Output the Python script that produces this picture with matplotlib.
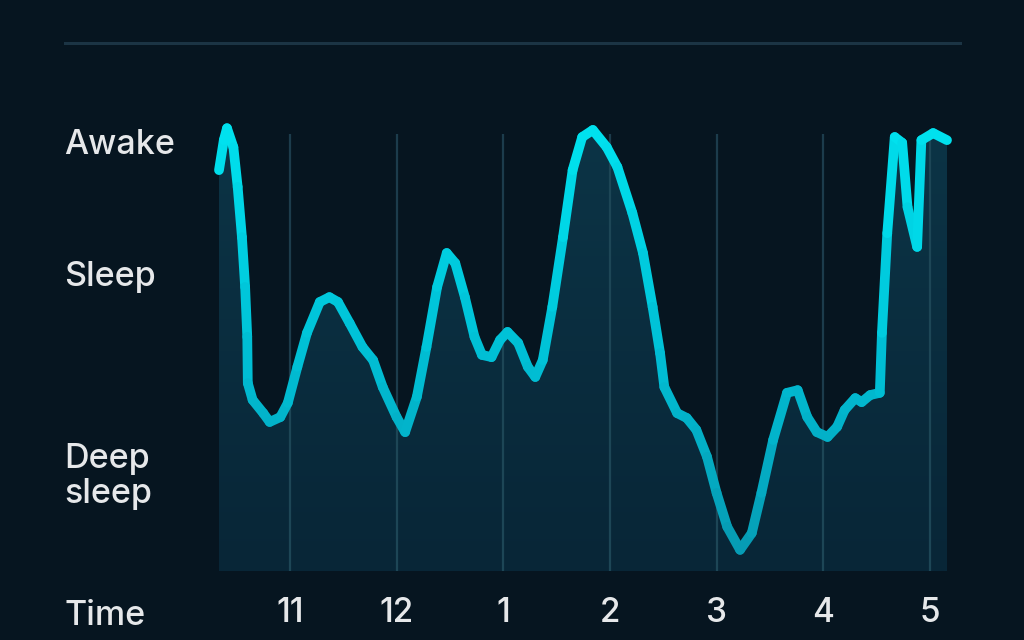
import numpy as np
import matplotlib.pyplot as plt
from matplotlib.collections import LineCollection
from matplotlib.colors import LinearSegmentedColormap
from matplotlib.lines import Line2D
import matplotlib.transforms as mtransforms

# sleep trace: time in hours (13 = 1am ...), level 0 = deepest, 100 = fully awake
hours = [10.335, 10.38, 10.41, 10.47, 10.51, 10.55, 10.58, 10.60, 10.605, 10.65,
         10.75, 10.81, 10.91, 10.98, 11.07, 11.16, 11.28, 11.37, 11.45, 11.56,
         11.68, 11.78, 11.87, 12.00, 12.08, 12.19, 12.28, 12.38, 12.47, 12.55,
         12.64, 12.73, 12.80, 12.89, 12.97, 13.04, 13.14, 13.23, 13.30, 13.37,
         13.46, 13.56, 13.65, 13.74, 13.84, 13.97, 14.07, 14.21, 14.31, 14.40,
         14.47, 14.51, 14.63, 14.72, 14.81, 14.91, 15.00, 15.10, 15.22, 15.33,
         15.42, 15.53, 15.66, 15.76, 15.85, 15.94, 16.04, 16.13, 16.20, 16.30,
         16.36, 16.44, 16.53, 16.55, 16.60, 16.67, 16.74, 16.79, 16.88, 16.92,
         17.03, 17.16]
level = [90.9, 97.7, 100.4, 96.1, 87.1, 75.7, 64.4, 53.1, 42.6, 38.8,
         35.8, 33.8, 34.9, 38.1, 46.3, 54.0, 61.0, 62.1, 61.0, 56.2,
         50.8, 47.8, 41.7, 34.9, 31.5, 39.5, 50.8, 64.4, 72.1, 69.8,
         62.1, 53.1, 49.0, 48.5, 52.4, 54.2, 51.7, 46.3, 44.0, 47.8,
         59.9, 75.7, 90.9, 98.4, 100.0, 96.1, 91.6, 81.2, 72.1, 59.9,
         49.4, 41.7, 35.8, 34.7, 32.0, 25.9, 17.7, 10.0, 4.8, 8.6,
         17.7, 29.7, 40.4, 41.0, 34.9, 31.5, 30.4, 32.7, 36.5, 39.2,
         38.3, 39.9, 40.4, 54.0, 76.6, 98.4, 97.1, 82.5, 73.5, 97.7,
         99.3, 97.7]

tick_hours = [11, 12, 13, 14, 15, 16, 17]
tick_labels = ["11", "12", "1", "2", "3", "4", "5"]
stage_levels = [96.6, 66.6, 21.4]
stage_labels = ["Awake", "Sleep", "Deep\nsleep"]

bg = "#061520"
txt = "#e6e8ea"
plt.rcParams["font.family"] = ["Inter", "DejaVu Sans"]

fig = plt.figure(figsize=(10.24, 6.4), dpi=100, facecolor=bg)
W, H = 1024, 640
ax = fig.add_axes([219 / W, 1 - 571 / H, (947 - 219) / W, (571 - 130) / H])
ax.set_facecolor(bg)
ax.set_xlim(hours[0], hours[-1])
ax.set_ylim(0, 100)
for s in ax.spines.values():
    s.set_visible(False)

# vertical hour lines (behind the dark background part)
ax.vlines(tick_hours, 0, 99, color="#1c3c4c", lw=1.6, zorder=1)

# gradient area under the curve
x = np.array(hours)
y = np.array(level)
poly = ax.fill_between(x, y, 0, color="none", lw=0)
fill_cmap = LinearSegmentedColormap.from_list("fill", ["#082637", "#0c3446"])
grad = np.linspace(0, 1, 256).reshape(-1, 1)
im = ax.imshow(grad, extent=[x[0], x[-1], 0, 100], origin="lower",
               cmap=fill_cmap, aspect="auto", zorder=1.5)
im.set_clip_path(poly.get_paths()[0], transform=ax.transData)
gl = ax.vlines(tick_hours, 0, 99, color="#1d4656", lw=1.6, zorder=1.6)
gl.set_clip_path(poly.get_paths()[0], transform=ax.transData)

# cyan line coloured by height
line_cmap = LinearSegmentedColormap.from_list("line", ["#0797b0", "#00c0d6", "#00e2ef"])
pts = np.column_stack([x, y])
segs = np.stack([pts[:-1], pts[1:]], axis=1)
lc = LineCollection(segs, cmap=line_cmap, linewidths=7.0, capstyle="round",
                    joinstyle="round", zorder=3, clip_on=False)
lc.set_array((y[:-1] + y[1:]) / 2)
lc.set_clim(0, 100)
ax.add_collection(lc)

# x tick labels
ax.set_yticks([])
ax.set_xticks(tick_hours, tick_labels)
ax.tick_params(axis="x", length=0, pad=19, labelsize=24, labelcolor=txt)
for t in ax.get_xticklabels():
    t.set_fontweight("medium")

# stage labels on the left
blend = mtransforms.blended_transform_factory(fig.transFigure, ax.transData)
for lv, lab in zip(stage_levels, stage_labels):
    ax.text(64 / W, lv, lab, transform=blend, ha="left", va="center",
            fontsize=24.5, color=txt, linespacing=1.12, fontweight="medium")
fig.text(64 / W, 1 - 616 / H, "Time", ha="left", va="center", fontsize=24.5,
         color=txt, fontweight="medium")

# top rule
fig.add_artist(Line2D([65 / W, 960 / W], [1 - 43 / H, 1 - 43 / H],
                      color="#1b3444", lw=2.2, transform=fig.transFigure))

fig.savefig("out.png", dpi=100, facecolor=bg)
